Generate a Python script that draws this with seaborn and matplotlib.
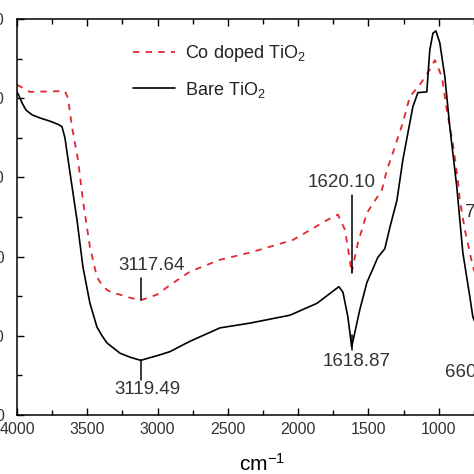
import numpy as np
import pandas as pd
import matplotlib
matplotlib.use("Agg")
import matplotlib.pyplot as plt
import seaborn as sns
from matplotlib.ticker import MultipleLocator

# ---- data ----
bare_wn = [4000, 3986, 3964, 3936, 3893, 3836, 3765, 3708, 3680, 3659, 3623, 3573,
           3531, 3481, 3431, 3395, 3360, 3317, 3267, 3196, 3119.49, 2983, 2912, 2770,
           2556, 2343, 2058, 1866, 1710, 1681, 1646, 1618.87, 1561, 1511, 1433, 1383,
           1347, 1297, 1255, 1184, 1148, 1084, 1077, 1063, 1041, 1020, 992, 956, 921,
           871, 828, 778, 757, 707, 660, 600, 529]
bare_t = [40.8, 40.3, 39.4, 38.5, 37.9, 37.5, 37.1, 36.7, 36.4, 35.0, 30.6, 24.6,
          18.7, 14.1, 11.1, 10.0, 9.1, 8.5, 7.8, 7.3, 6.9, 7.6, 8.0, 9.3,
          11.0, 11.6, 12.6, 14.1, 16.2, 15.5, 12.4, 8.6, 13.3, 16.7, 19.9, 21.0,
          23.7, 27.1, 32.2, 38.9, 40.7, 40.8, 42.7, 46.1, 48.2, 48.5, 47.0, 42.7, 36.4,
          28.8, 20.5, 14.9, 12.4, 10.1, 8.8, 10.7, 14.5]

co_wn = [4000, 3908, 3659, 3637, 3609, 3566, 3531, 3481, 3431, 3395, 3360, 3317,
         3267, 3196, 3117.64, 3004, 2912, 2770, 2556, 2343, 2037, 1795, 1717, 1667,
         1632, 1620.10, 1575, 1511, 1404, 1369, 1326, 1255, 1205, 1134, 1063, 1027,
         977, 942, 899, 864, 849, 814, 778, 757, 707, 636]
co_t = [41.7, 40.8, 40.9, 40.0, 36.4, 32.2, 27.1, 21.2, 17.4, 16.4, 15.8, 15.4,
        15.2, 14.8, 14.5, 15.2, 16.4, 18.1, 19.6, 20.5, 22.1, 24.6, 25.3, 23.4,
        19.6, 17.9, 21.7, 25.5, 28.4, 30.9, 33.1, 36.9, 40.2, 41.7, 43.6, 44.8,
        42.7, 38.5, 34.3, 29.7, 27.1, 23.4, 20.5, 18.7, 16.4, 14.5]

series_names = ["Co doped TiO$_2$", "Bare TiO$_2$"]
x_ticks = [4000, 3500, 3000, 2500, 2000, 1500, 1000]
y_ticks = [0, 10, 20, 30, 40, 50]

peak_labels = ["3117.64", "3119.49", "1620.10", "1618.87", "660.52", "771.53"]

# ---- style ----
sns.set_style("ticks")
plt.rcParams["font.family"] = ["Liberation Sans", "DejaVu Sans"]
plt.rcParams["mathtext.default"] = "regular"

fig = plt.figure(figsize=(4.74, 4.74), dpi=100)
W = 474.0
ax = fig.add_axes([17 / W, 59 / W, 506 / W, 396 / W])

df_co = pd.DataFrame({"wn": co_wn, "T": co_t})
df_bare = pd.DataFrame({"wn": bare_wn, "T": bare_t})

sns.lineplot(data=df_co, x="wn", y="T", ax=ax, color="#e3262d", lw=1.3,
             dashes=False, label=series_names[0], sort=False)
ax.lines[-1].set_dashes((3.5, 3.5))
sns.lineplot(data=df_bare, x="wn", y="T", ax=ax, color="black", lw=1.2,
             label=series_names[1], sort=False)

ax.set_xlim(4000, 400)
ax.set_ylim(0, 50)
ax.set_xticks(x_ticks)
ax.set_xticklabels([str(v) for v in x_ticks])
ax.xaxis.set_minor_locator(MultipleLocator(250))
ax.set_yticks(y_ticks)
ax.set_yticklabels([str(v) for v in y_ticks])
ax.yaxis.set_minor_locator(MultipleLocator(5))

ax.tick_params(which="both", direction="in", top=True, right=True, width=1,
               colors="black", labelcolor="#333333", labelsize=11.5)
ax.tick_params(axis="y", which="major", length=5, pad=9)
ax.tick_params(axis="x", which="major", length=5, pad=5)
ax.tick_params(which="minor", length=3.5)
for s in ax.spines.values():
    s.set_linewidth(1.1)
    s.set_color("black")

ax.set_ylabel("")
ax.set_xlabel("cm$^{-1}$", fontsize=15, color="black")
ax.xaxis.set_label_coords((262 - 17) / 506, -(464 - 415) / 396)
ax.xaxis.label.set_va("center")

# ---- annotations ----
txt_kw = dict(fontsize=13.5, color="#333333", ha="center", va="center")
ax.text(3040, 18.9, peak_labels[0], **txt_kw)
ax.plot([3117.64, 3117.64], [17.3, 14.5], color="black", lw=1.1)
ax.text(3075, 3.2, peak_labels[1], **txt_kw)
ax.plot([3119.49, 3119.49], [6.9, 4.4], color="black", lw=1.1)
ax.text(1689, 29.4, peak_labels[2], **txt_kw)
ax.plot([1620.10, 1620.10], [27.8, 17.9], color="black", lw=1.1)
ax.text(1582, 6.7, peak_labels[3], **txt_kw)
ax.plot([1618.87, 1618.87], [10.1, 8.2], color="black", lw=1.1)
ax.text(956, 5.4, peak_labels[4], fontsize=13.5, color="#333333", ha="left", va="center")
ax.text(814, 25.6, peak_labels[5], fontsize=13.5, color="#333333", ha="left", va="center")

leg = ax.legend(loc="upper left", bbox_to_anchor=((126 - 17) / 506, (415 - 36) / 396),
                frameon=False, fontsize=13, handlelength=2.3, handletextpad=0.55,
                labelspacing=0.85, borderaxespad=0)
for t in leg.get_texts():
    t.set_color("#222222")

fig.savefig("out.png", dpi=100)
